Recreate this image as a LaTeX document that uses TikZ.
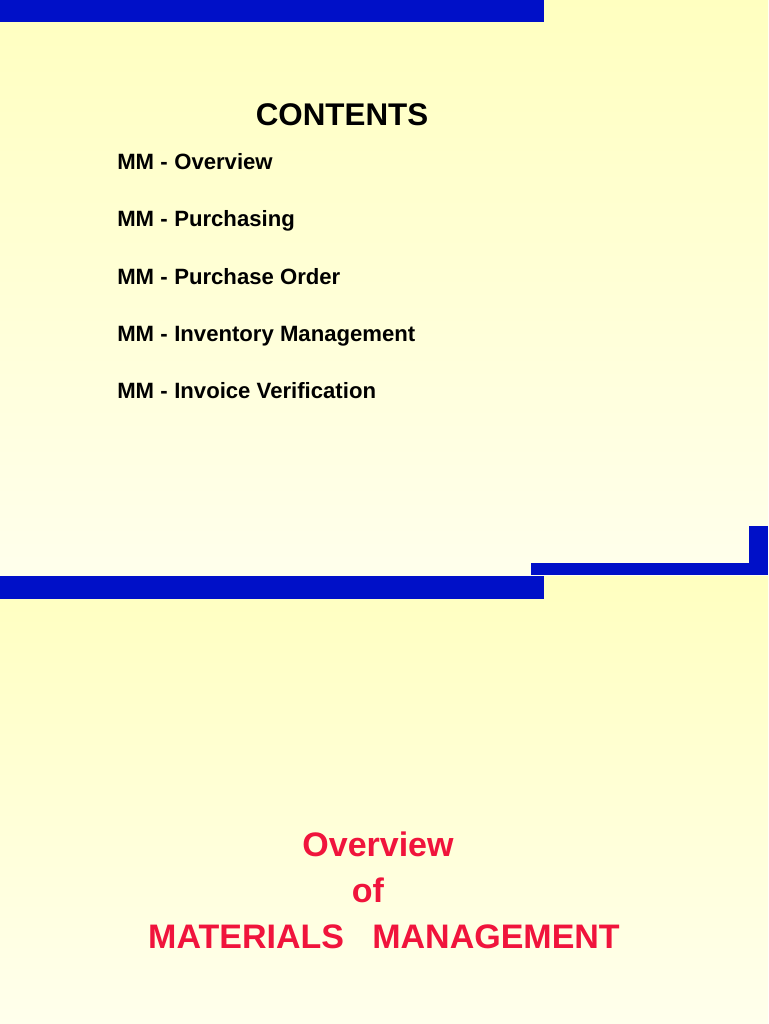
\documentclass[tikz,border=0pt]{standalone}
\usepackage{fontspec}
\setmainfont{Liberation Sans}
\definecolor{barblue}{HTML}{0010C8}
\definecolor{ytop}{HTML}{FFFFC0}
\definecolor{ybot}{HTML}{FFFFEC}
\definecolor{ttlred}{HTML}{F0143C}
\begin{document}
\begin{tikzpicture}[x=0.75pt,y=-0.75pt,
  bar/.style={fill=barblue,draw=none},
  item/.style={anchor=base west,inner sep=0pt,font=\fontsize{16.6}{18}\selectfont\bfseries},
  red/.style={text=ttlred,inner sep=0pt,anchor=base,font=\fontsize{25.5}{30}\selectfont\bfseries}]
\useasboundingbox (0,0) rectangle (768,1024);
\shade[top color=ytop,bottom color=ybot] (0,0) rectangle (768,576);
\shade[top color=ytop,bottom color=ybot] (0,576) rectangle (768,1024);
\fill[bar] (0,0) rectangle (544,22);
\fill[bar] (749,526) rectangle (768,575);
\fill[bar] (531,563) rectangle (768,575);
\fill[bar] (0,576) rectangle (544,599);
\node[inner sep=0pt,anchor=base,font=\fontsize{23.5}{26}\selectfont\bfseries] (title) at (342,125) {CONTENTS};
\node[item] (i1) at (117,169) {MM -\hspace{0.3em}Overview};
\node[item] (i2) at (117,226) {MM -\hspace{0.3em}Purchasing};
\node[item] (i3) at (117,284) {MM -\hspace{0.3em}Purchase Order};
\node[item] (i4) at (117,341) {MM -\hspace{0.3em}Inventory Management};
\node[item] (i5) at (117,398) {MM -\hspace{0.3em}Invoice Verification};
\node[red] (o1) at (378,856) {Overview};
\node[red] (o2) at (368,902) {of};
\node[red] (o3) at (384,948) {MATERIALS\ \ \ MANAGEMENT};
\end{tikzpicture}
\end{document}
